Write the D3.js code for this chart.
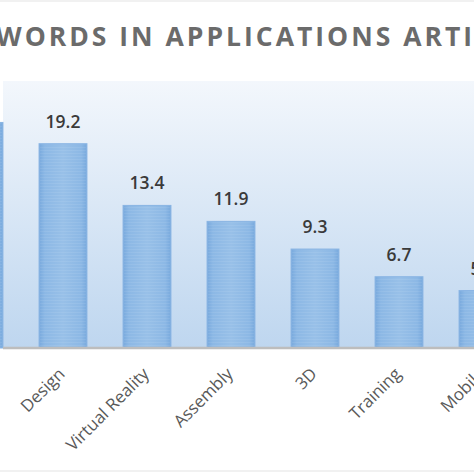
<!DOCTYPE html>
<html>
<head>
<meta charset="utf-8">
<script src="https://cdn.jsdelivr.net/npm/d3@7"></script>
<style>
  html, body { margin: 0; padding: 0; background: #fff; }
  svg { display: block; }
</style>
</head>
<body>
<svg id="chart"></svg>
<script>
// Données (la première et la dernière barre sont coupées)
const categories = ["Maintenance", "Design", "Virtual Reality", "Assembly", "3D", "Training", "Mobile"];
const values = [21.2, 19.2, 13.4, 11.9, 9.3, 6.7, 5.4];
const title = "KEYWORDS IN APPLICATIONS ARTICLES";

const width = 474, height = 474;
const svg = d3.select("#chart").attr("width", width).attr("height", height);

// Dégradés
const defs = svg.append("defs");
const bg = defs.append("linearGradient").attr("id", "bg").attr("x1", 0).attr("y1", 0).attr("x2", 0).attr("y2", 1);
bg.append("stop").attr("offset", "0%").attr("stop-color", "#f3f7fc");
bg.append("stop").attr("offset", "100%").attr("stop-color", "#bed6ef");

const barGrad = defs.append("linearGradient").attr("id", "bar").attr("x1", 0).attr("y1", 0).attr("x2", 1).attr("y2", 0);
[["0%", "#78a9dd"], ["12%", "#8cb8e5"], ["50%", "#98c0e8"], ["88%", "#8cb8e5"], ["100%", "#78a9dd"]]
    .forEach(([o, c]) => barGrad.append("stop").attr("offset", o).attr("stop-color", c));

// Fines rayures horizontales des barres
const stripes = defs.append("pattern").attr("id", "stripes")
    .attr("patternUnits", "userSpaceOnUse").attr("width", 8).attr("height", 3);
stripes.append("rect").attr("width", 8).attr("height", 1).attr("fill", "#ffffff").attr("opacity", 0.07);

// Cadre du graphique
svg.append("rect")
    .attr("x", -10).attr("y", 1).attr("width", width + 20).attr("height", 470)
    .attr("fill", "#fff").attr("stroke", "#e3e3e3");

// Zone de tracé
const plotTop = 81, baseY = 348;
svg.append("rect")
    .attr("x", 3).attr("y", plotTop).attr("width", width).attr("height", baseY - plotTop)
    .attr("fill", "url(#bg)");

// Échelles
const x = d3.scaleBand().domain(categories).range([-63, -63 + 84 * categories.length])
    .paddingInner(0.43).paddingOuter(0.215);
const y = d3.scaleLinear().domain([0, 25]).range([baseY, plotTop + 1]);

// Barres
const g = svg.append("g");
g.selectAll("rect.bar").data(categories).enter()
    .append("rect")
    .attr("class", "bar")
    .attr("x", d => x(d))
    .attr("width", x.bandwidth())
    .attr("y", (d, i) => y(values[i]))
    .attr("height", (d, i) => baseY - y(values[i]))
    .attr("fill", "url(#bar)")
    .attr("stroke", "#8ab5e3")
    .attr("stroke-width", 1);

g.selectAll("rect.stripe").data(categories).enter()
    .append("rect")
    .attr("class", "stripe")
    .attr("x", d => x(d) + 1)
    .attr("width", x.bandwidth() - 2)
    .attr("y", (d, i) => y(values[i]) + 1)
    .attr("height", (d, i) => baseY - y(values[i]) - 1)
    .attr("fill", "url(#stripes)");

// Étiquettes de valeurs
g.selectAll("text.val").data(categories).enter()
    .append("text")
    .attr("class", "val")
    .attr("x", d => x(d) + x.bandwidth() / 2)
    .attr("y", (d, i) => y(values[i]) - 16)
    .attr("text-anchor", "middle")
    .attr("font-family", "Open Sans")
    .attr("font-weight", 600)
    .attr("font-size", 17.5)
    .attr("fill", "#3a3a3a")
    .text((d, i) => values[i].toFixed(1));

// Axe horizontal
const xAxis = svg.append("g").attr("transform", `translate(0,${baseY})`)
    .call(d3.axisBottom(x).tickSize(0).tickPadding(0));
xAxis.select(".domain").attr("stroke", "#bdbdbd").attr("stroke-width", 2.5).attr("d", `M3,0H${width}`);
xAxis.selectAll(".tick text")
    .attr("font-family", "Open Sans")
    .attr("font-size", 17)
    .attr("fill", "#595959")
    .attr("text-anchor", "end")
    .attr("dy", null).attr("y", null)
    .attr("transform", "translate(3,27) rotate(-45)");

// Titre (coupé à gauche et à droite)
const t = svg.append("text")
    .attr("x", 0).attr("y", 46)
    .attr("font-family", "Open Sans")
    .attr("font-weight", "bold")
    .attr("font-size", 26.5)
    .attr("letter-spacing", "3px")
    .attr("fill", "#6b6b6b")
    .text(title);
const shift = t.node().getStartPositionOfChar(3).x;
t.attr("x", -shift - 4);
</script>
</body>
</html>
